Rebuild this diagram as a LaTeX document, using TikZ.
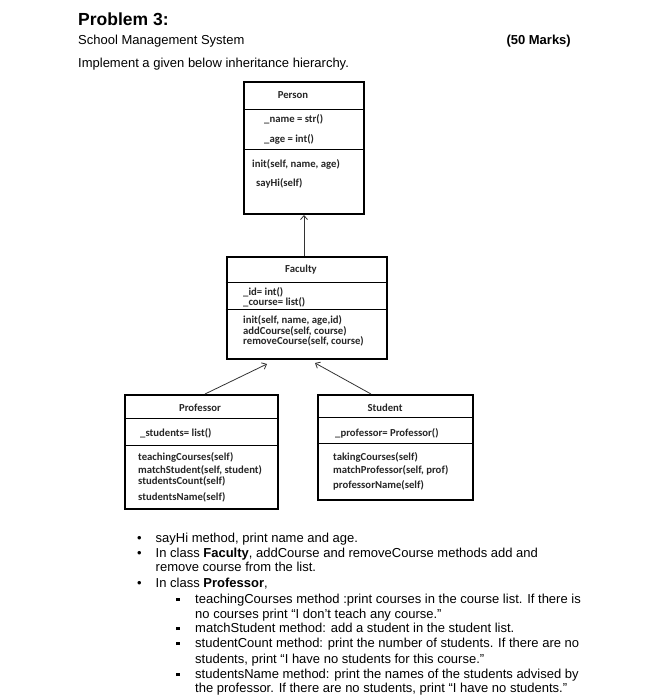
\documentclass[tikz,border=0pt]{standalone}
\usepackage{fontspec}
\setmainfont{Liberation Sans}
\newfontfamily\umlfont{Carlito}
\usetikzlibrary{arrows.meta}

\tikzset{
    uml box/.style={
      draw=black,
      line width=2pt,
      inner sep=0pt
    },
    uml rule/.style={
      draw=black,
      line width=0.9pt
    },
    uml text/.style={
      font=\umlfont\bfseries\fontsize{10.7}{12}\selectfont,
      text=black!85,
      anchor=base west,
      inner sep=0pt
    },
    uml title/.style={
      uml text,
      anchor=base
    },
    inherit/.style={
      draw=black!80,
      line width=0.8pt,
      -{Straight Barb[length=4pt,width=7pt]}
    },
    body text/.style={
      font=\fontsize{13}{15}\selectfont,
      anchor=base west,
      inner sep=0pt
    },
    sub bullet/.style={
      body text
    }
  }

\newcommand{\subsq}{\raisebox{2.5pt}{\rule{3.5pt}{3.5pt}}}

\begin{document}
\begin{tikzpicture}[x=1pt,y=-1pt]
      \useasboundingbox (0,0) rectangle (662,700);

      % Kopf
      \node[anchor=base west, inner sep=0pt, font=\bfseries\fontsize{17.5}{20}\selectfont] (title) at (78,26) {Problem 3:};
      \node[body text] (subtitle) at (78,45) {School Management System};
      \node[body text, anchor=base east, font=\bfseries\fontsize{13}{15}\selectfont] (marks) at (571,45) {(50 Marks)};
      \node[body text] (task) at (78,68) {Implement a given below inheritance hierarchy.};

      % Klassen
      \node[uml box, minimum width=120pt, minimum height=132pt] (person) at (304,148) {};
      \draw[uml rule] (person.west |- 0,109) -- (person.east |- 0,109);
      \draw[uml rule] (person.west |- 0,149) -- (person.east |- 0,149);
      \node[uml title] (personname) at (293,98.5) {Person};
      \node[uml text] (pname) at (264,122.5) {\_name = str()};
      \node[uml text] (page) at (264,142.5) {\_age = int()};
      \node[uml text] (pinit) at (252,167.5) {init(self, name, age)};
      \node[uml text] (psay) at (256,186.5) {sayHi(self)};

      \node[uml box, line width=2.6pt, minimum width=160pt, minimum height=102pt] (faculty) at (307,308) {};
      \draw[uml rule] (faculty.west |- 0,282) -- (faculty.east |- 0,282);
      \draw[uml rule] (faculty.west |- 0,309) -- (faculty.east |- 0,309);
      \node[uml title] (facultyname) at (301,272.5) {Faculty};
      \node[uml text] (fid) at (243,295.5) {\_id= int()};
      \node[uml text] (fcourse) at (243,305.5) {\_course= list()};
      \node[uml text] (finit) at (243,323.5) {init(self, name, age,id)};
      \node[uml text] (fadd) at (243,334.5) {addCourse(self, course)};
      \node[uml text] (fremove) at (243,344.5) {removeCourse(self, course)};

      \node[uml box, minimum width=153pt, minimum height=114pt] (professor) at (201.5,452) {};
      \draw[uml rule] (professor.west |- 0,418) -- (professor.east |- 0,418);
      \draw[uml rule] (professor.west |- 0,445) -- (professor.east |- 0,445);
      \node[uml title] (professorname) at (200,411.5) {Professor};
      \node[uml text] (rstudents) at (140,436.5) {\_students= list()};
      \node[uml text] (rteach) at (138,460.5) {teachingCourses(self)};
      \node[uml text] (rmatch) at (138,473) {matchStudent(self, student)};
      \node[uml text] (rcount) at (138,484) {studentsCount(self)};
      \node[uml text] (rnames) at (138,500) {studentsName(self)};

      \node[uml box, minimum width=155pt, minimum height=105pt] (student) at (395.5,447.5) {};
      \draw[uml rule] (student.west |- 0,417) -- (student.east |- 0,417);
      \draw[uml rule] (student.west |- 0,443) -- (student.east |- 0,443);
      \node[uml title] (studentname) at (385,411.5) {Student};
      \node[uml text] (sprof) at (335,436.5) {\_professor= Professor()};
      \node[uml text] (stake) at (333,460.5) {takingCourses(self)};
      \node[uml text] (smatch) at (333,473.5) {matchProfessor(self, prof)};
      \node[uml text] (sname) at (333,488.5) {professorName(self)};

      % Pfeile
      \coordinate (proftip) at (267,364);
      \coordinate (studtip) at (315,363);
      \draw[inherit] (person.south |- faculty.north) -- (person.south);
      \draw[inherit] (professor.north -| 205,0) -- (proftip);
      \draw[inherit] (student.north -| 371,0) -- (studtip);

      % Aufzaehlung
      \node[body text] (b1) at (137,542.5) {•};
      \node[body text] (t1) at (155.5,542.5) {sayHi method, print name and age.};
      \node[body text] (b2) at (137,557.5) {•};
      \node[body text] (t2) at (155.5,557.5) {In class \textbf{Faculty}, addCourse and removeCourse methods add and};
      \node[body text] (t2b) at (155.5,571.5) {remove course from the list.};
      \node[body text] (b3) at (137,587.5) {•};
      \node[body text] (t3) at (155.5,587.5) {In class \textbf{Professor},};

      \node[sub bullet] (s1) at (176,603.5) {\subsq};
      \node[body text] (u1) at (195,603.5) {teachingCourses method :print courses in the course list. If there is};
      \node[body text] (u1b) at (195,618.5) {no courses print “I don’t teach any course.”};
      \node[sub bullet] (s2) at (176,632.5) {\subsq};
      \node[body text] (u2) at (195,632.5) {matchStudent method: add a student in the student list.};
      \node[sub bullet] (s3) at (176,647.5) {\subsq};
      \node[body text] (u3) at (195,647.5) {studentCount method: print the number of students. If there are no};
      \node[body text] (u3b) at (195,663.5) {students, print “I have no students for this course.”};
      \node[sub bullet] (s4) at (176,678.5) {\subsq};
      \node[body text] (u4) at (195,678.5) {studentsName method: print the names of the students advised by};
      \node[body text] (u4b) at (195,692.5) {the professor. If there are no students, print “I have no students.”};
    \end{tikzpicture}
\end{document}
